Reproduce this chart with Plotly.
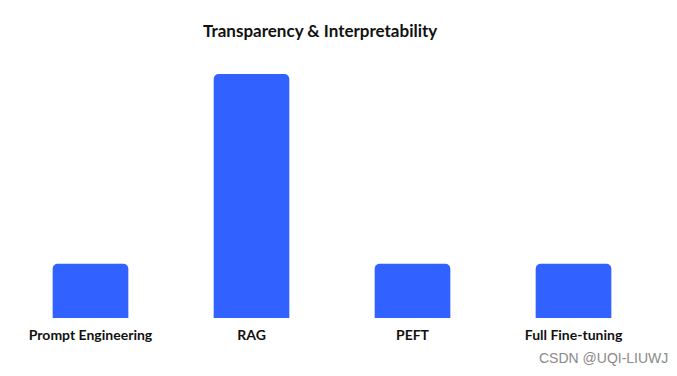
import plotly.graph_objects as go

categories = ["Prompt Engineering", "RAG", "PEFT", "Full Fine-tuning"]
values = [1, 4.5, 1, 1]
title_text = "Transparency & Interpretability"
watermark = "CSDN @UQI-LIUWJ"

fig = go.Figure(go.Bar(
    x=categories, y=values,
    marker=dict(color="#3162FF", line=dict(width=0)),
    width=0.47,
))

fig.update_layout(
    width=677, height=376,
    margin=dict(l=10, r=23, t=74, b=58),
    paper_bgcolor="white", plot_bgcolor="white",
    barcornerradius=5,
    showlegend=False,
    xaxis=dict(showgrid=False, zeroline=False, showline=False, ticks="",
               tickfont=dict(family="Lato", size=14, color="#111111", weight="bold"),
               ticklabelstandoff=7,
               range=[-0.5, 3.5]),
    yaxis=dict(visible=False, range=[0, 4.5]),
    annotations=[
        dict(text="<b>" + title_text + "</b>", xref="paper", yref="paper",
             x=(320 - 10) / 644, y=1 + (74 - 30) / 244, xanchor="center", yanchor="middle",
             showarrow=False, font=dict(family="Lato", size=17, color="#111111")),
        dict(text=watermark, xref="paper", yref="paper",
             x=(670 - 10) / 644, y=-(358 - 318) / 244, xanchor="right", yanchor="middle",
             showarrow=False, font=dict(family="Liberation Sans", size=14, color="#8a8a8a")),
    ],
)

fig.write_html("out.html")
